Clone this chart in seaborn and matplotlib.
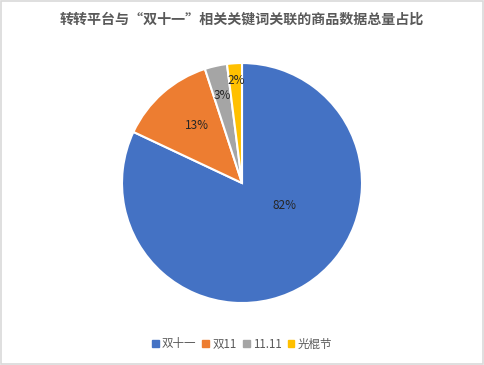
import matplotlib
matplotlib.use("Agg")
import matplotlib.pyplot as plt
import seaborn as sns
import numpy as np

categories = ["双十一", "双11", "11.11", "光棍节"]
values = [82, 13, 3, 2]
colors = ["#4472C4", "#ED7D31", "#A5A5A5", "#FFC000"]

sns.set_theme(style="white")
plt.rcParams['font.family'] = ['Noto Sans CJK SC', 'DejaVu Sans']

fig = plt.figure(figsize=(4.84, 3.65), dpi=100)
ax = fig.add_axes([0.5 - 0.248, 0.4986 - 0.3288, 0.496, 0.6575])

wedges, texts, autotexts = ax.pie(
    values, colors=colors, startangle=90, counterclock=False,
    autopct=lambda p: f"{p:.0f}%", pctdistance=0.6,
    wedgeprops=dict(edgecolor="white", linewidth=1.5),
    textprops=dict(fontsize=8.5, color="#262626"))
ax.set_aspect("equal")
ax.set_xlim(-1, 1)
ax.set_ylim(-1, 1)

# label placement (angle in degrees, radius fraction)
label_pos = [(-27.6, 0.40), (127.8, 0.61), (102.8, 0.75), (93.3, 0.86)]
for t, (a, r) in zip(autotexts, label_pos):
    t.set_position((r * np.cos(np.radians(a)), r * np.sin(np.radians(a))))

fig.text(0.5, 1 - 20 / 365, "转转平台与“双十一”相关关键词关联的商品数据总量占比",
         ha="center", va="center", fontsize=10.1, fontweight="bold", color="#595959")

handles = [plt.Rectangle((0, 0), 1, 1, color=c) for c in colors]
fig.legend(handles, categories, loc="center", bbox_to_anchor=(0.5, 1 - 344 / 365),
           ncol=4, frameon=False, fontsize=8.3, handlelength=0.6, handleheight=0.6,
           handletextpad=0.3, columnspacing=0.5, labelcolor="#595959")

fig.patches.append(plt.Rectangle((0.002, 0.003), 0.996, 0.994, transform=fig.transFigure,
                                 fill=False, edgecolor="#D9D9D9", linewidth=1.2))

fig.savefig("out.png", dpi=100, facecolor="white")
